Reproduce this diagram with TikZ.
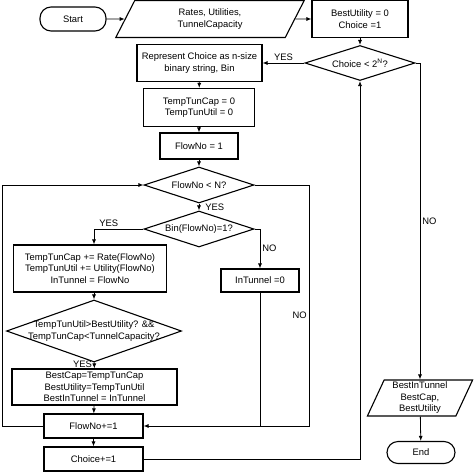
\documentclass[tikz,border=0pt]{standalone}
\usepackage{fontspec}
\setmainfont{Liberation Sans}
\usepackage{tikz}
\usetikzlibrary{shapes.geometric,arrows.meta}

\tikzset{
  every node/.style={font=\fontsize{9.4}{11.5}\selectfont, align=center, inner sep=0pt},
  box/.style={draw, line width=1.1pt},
  dia/.style={draw, diamond, aspect=3, line width=1.1pt},
  io/.style={draw, trapezium, trapezium left angle=68, trapezium right angle=112,
             trapezium stretches=true, line width=1.1pt},
  term/.style={draw, rounded corners=11pt, line width=1.1pt},
  lbl/.style={inner sep=2pt},
  arr/.style={line width=0.8pt, -{Latex[length=5pt,width=4pt]}},
}

\begin{document}
\begin{tikzpicture}[x=1pt,y=-1pt]
  \useasboundingbox (0,0) rectangle (474,472);
  \node [term, minimum width=66, minimum height=24](Start) at (73,19) {Start};
  \node [io, minimum width=190, minimum height=37](In) at (210,19) {Rates, Utilities,\\TunnelCapacity};
  \node [box, minimum width=96, minimum height=37](Init) at (360,19) {BestUtility = 0\\Choice =1};
  \node [dia, minimum width=110, minimum height=35](Choice) at (360,63) {Choice < 2\textsuperscript{N}?};
  \node [box, minimum width=125, minimum height=37](Bin) at (199.5,63) {Represent Choice as n-size\\binary string, Bin};
  \node [box, minimum width=111, minimum height=38](Zero) at (199,107.5) {TempTunCap = 0\\TempTunUtil = 0};
  \node [box, minimum width=78, minimum height=26](Flow) at (199,146) {FlowNo = 1};
  \node [dia, minimum width=110, minimum height=36](FlowChk) at (199,185) {FlowNo < N?};
  \node [dia, minimum width=110, minimum height=36](BinChk) at (199,229) {Bin(FlowNo)=1?};
  \node [box, minimum width=153, minimum height=47](Add) at (90,268.5) {TempTunCap += Rate(FlowNo)\\TempTunUtil += Utility(FlowNo)\\InTunnel = FlowNo};
  \node [box, minimum width=78, minimum height=23](Out) at (260,280.5) {InTunnel =0};
  \node [dia, minimum width=175, minimum height=62](Cmp) at (94,331) {};
  \node (CmpT) at (Cmp) {TempTunUtil>BestUtility? \&\&\\TempTunCap<TunnelCapacity?};
  \node [box, minimum width=165, minimum height=36](Best) at (94.5,387) {BestCap=TempTunCap\\BestUtility=TempTunUtil\\BestInTunnel = InTunnel};
  \node [box, minimum width=99, minimum height=24](IncFlow) at (93.5,426) {FlowNo+=1};
  \node [box, minimum width=99, minimum height=24](IncChoice) at (93.5,459) {Choice+=1};
  \node [io, minimum width=106, minimum height=36](Res) at (420,398) {BestInTunnel\\BestCap,\\BestUtility};
  \node [term, minimum width=68, minimum height=22](End) at (421,452.5) {End};
  \coordinate (L) at (2,185);
  \coordinate (R) at (309,426);
  \begin{scope}[arr]
    \draw (Start)--(In);
    \draw (In)--(Init);
    \draw (Init)--(Choice);
    \draw (Choice)-- node[lbl,above]{YES} (Bin);
    \draw (Bin)--(Zero);
    \draw (Zero)--(Flow);
    \draw (Flow)--(FlowChk);
    \draw (FlowChk)-- node[lbl,right,xshift=4pt]{YES} (BinChk);
    \draw (BinChk.west) -| node[lbl,above,pos=0.35]{YES} (Add.north -| Cmp.north);
    \draw (BinChk.east) -| node[lbl,right,pos=0.75]{NO} (Out.north);
    \draw (Add.south -| Cmp.north)--(Cmp.north);
    \draw (Cmp)-- node[lbl,left,pos=0.1,yshift=-1pt]{YES} (Best);
    \draw (Best)--(IncFlow);
    \draw (IncFlow)--(IncChoice);
    \draw (IncFlow.west) -| (L)--(FlowChk.west);
    \draw (FlowChk.east) -| node[lbl,left,pos=0.77]{NO} (R)--(IncFlow.east);
    \draw (IncChoice.east) -| (Choice.south);
    \draw (Choice.east) -| node[lbl,right,pos=0.75]{NO} (Res.north);
    \draw (Res)--(End);
  \end{scope}
  \draw [line width=0.8pt](Out.south)--(Out.south |- R);
\end{tikzpicture}
\end{document}
